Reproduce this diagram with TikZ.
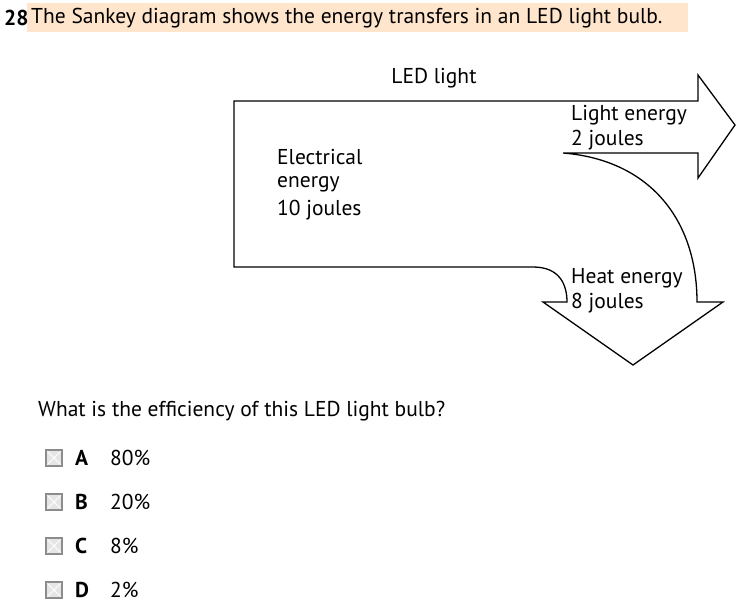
\documentclass[tikz,border=0pt]{standalone}
\usepackage{fontspec}
\setmainfont{PT Sans}
\begin{document}
\begin{tikzpicture}[x=1pt,y=-1pt,
  txt/.style={anchor=west,inner sep=0pt,font=\fontsize{21.5}{25}\selectfont},
  box/.style={draw=gray!90,fill=gray!20,line width=1.2pt,minimum size=16pt,inner sep=0pt,
    path picture={\draw[white,line width=1pt](path picture bounding box.south west)--(path picture bounding box.north east)(path picture bounding box.north west)--(path picture bounding box.south east);}},
  arr/.style={draw,line width=1.3pt,line join=miter}]
\useasboundingbox (0,0) rectangle (740,605);
\fill[orange!20] (27,3) rectangle (688,32);
\node[txt,font=\fontsize{21.5}{25}\selectfont\bfseries] (num) at (4,18) {28};
\node[txt] (title) at (31,18) {The Sankey diagram shows the energy transfers in an LED light bulb.};
\path[arr] (563,153) -- (698,153) -- (698,178) -- (735,125) -- (698,75) -- (698,101) -- (234,101) -- (234,267) -- (533,267)
  .. controls (560,267) and (567,285) .. (567,302) -- (543,302) -- (633,365) -- (723,302) -- (697,302)
  .. controls (697,220) and (650,160) .. (563,153);
\node[anchor=center,inner sep=0pt,font=\fontsize{21.5}{25}\selectfont] (led) at (434,78) {LED light};
\node[txt] (e1) at (277,157) {Electrical};
\node[txt] (e2) at (277,184) {energy};
\node[txt] (e3) at (277,210) {10 joules};
\node[txt] (l1) at (571,115) {Light energy};
\node[txt] (l2) at (571,140) {2 joules};
\node[txt] (h1) at (571,278) {Heat energy};
\node[txt] (h2) at (571,303) {8 joules};
\node[txt] (q) at (38,411) {What is the efficiency of this LED light bulb?};
\foreach \y/\l/\v [count=\i] in {458/A/80\%,502/B/20\%,546/C/8\%,590/D/2\%}{
  \node[box] (b\i) at (54,\y) {};
  \node[txt,font=\fontsize{21.5}{25}\selectfont\bfseries] (L\i) at (75,\y) {\l};
  \node[txt] (V\i) at (110,\y) {\v};
}
\end{tikzpicture}
\end{document}
